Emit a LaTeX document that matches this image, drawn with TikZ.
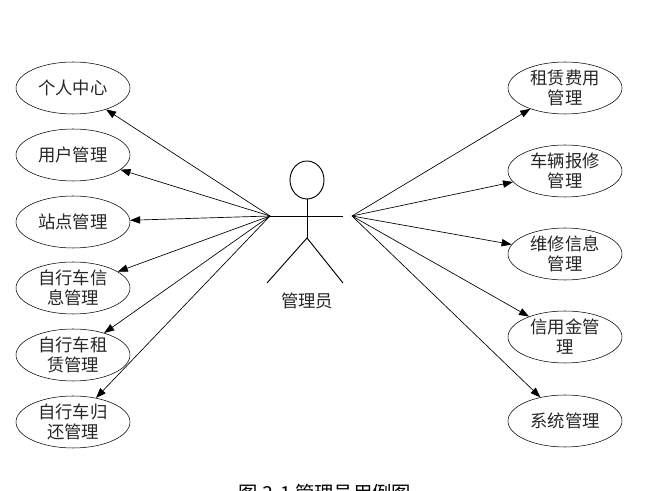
\documentclass[tikz,border=0pt]{standalone}
\usepackage{fontspec}
\setmainfont{Liberation Serif}
\newfontfamily\cjk{Noto Sans CJK SC}
\usetikzlibrary{arrows.meta,shapes.geometric}
\begin{document}
\begin{tikzpicture}[x=0.75pt,y=-0.75pt,
  uc/.style={draw,ellipse,minimum width=85.5pt,minimum height=39pt,inner sep=0pt,align=center,font=\cjk\fontsize{13}{15}\selectfont,text=black!85},
  assoc/.style={draw,line width=0.5pt,-{Triangle[length=7.5pt,width=5.5pt]}},
  stick/.style={line width=0.7pt}]
\clip (0,0) rectangle (651,491);
\useasboundingbox (0,0) rectangle (651,491);
\fill[white] (0,0) rectangle (651,491);
% left use cases
\node[uc] (l1) at (73,88) {个人中心};
\node[uc] (l2) at (73,155) {用户管理};
\node[uc] (l3) at (73,222) {站点管理};
\node[uc] (l4) at (73,288) {自行车信\\息管理};
\node[uc] (l5) at (73,355) {自行车租\\赁管理};
\node[uc] (l6) at (73,422) {自行车归\\还管理};
% right use cases
\node[uc] (r1) at (565,88) {租赁费用\\管理};
\node[uc] (r2) at (565,171) {车辆报修\\管理};
\node[uc] (r3) at (565,254) {维修信息\\管理};
\node[uc] (r4) at (565,337) {信用金管\\理};
\node[uc] (r5) at (565,421) {系统管理};
% actor
\node[draw,stick,ellipse,minimum width=25.5pt,minimum height=28.5pt,inner sep=0pt] (head) at (307,180) {};
\coordinate (al) at (269,216);
\coordinate (ar) at (343,216);
\coordinate (hip) at (307,238);
\coordinate (fl) at (267,283);
\coordinate (fr) at (343,283);
\coordinate (src) at (270,216);
\coordinate (srcr) at (352,216);
\draw[stick] (head.south) -- (hip);
\draw[stick] (al) -- (ar);
\draw[stick] (fl) -- (hip) -- (fr);
\node[font=\cjk\fontsize{13}{15}\selectfont,text=black!85] (lab) at (307,301) {管理员};
\foreach \n in {l1,l2,l3,l4,l5,l6} \draw[assoc] (src) -- (\n);
\foreach \n in {r1,r2,r3,r4,r5} \draw[assoc] (srcr) -- (\n);
\node[font=\cjk\fontsize{14.5}{16}\selectfont,anchor=base] (cap) at (325,501) {图 3-1 管理员用例图};
\end{tikzpicture}
\end{document}
